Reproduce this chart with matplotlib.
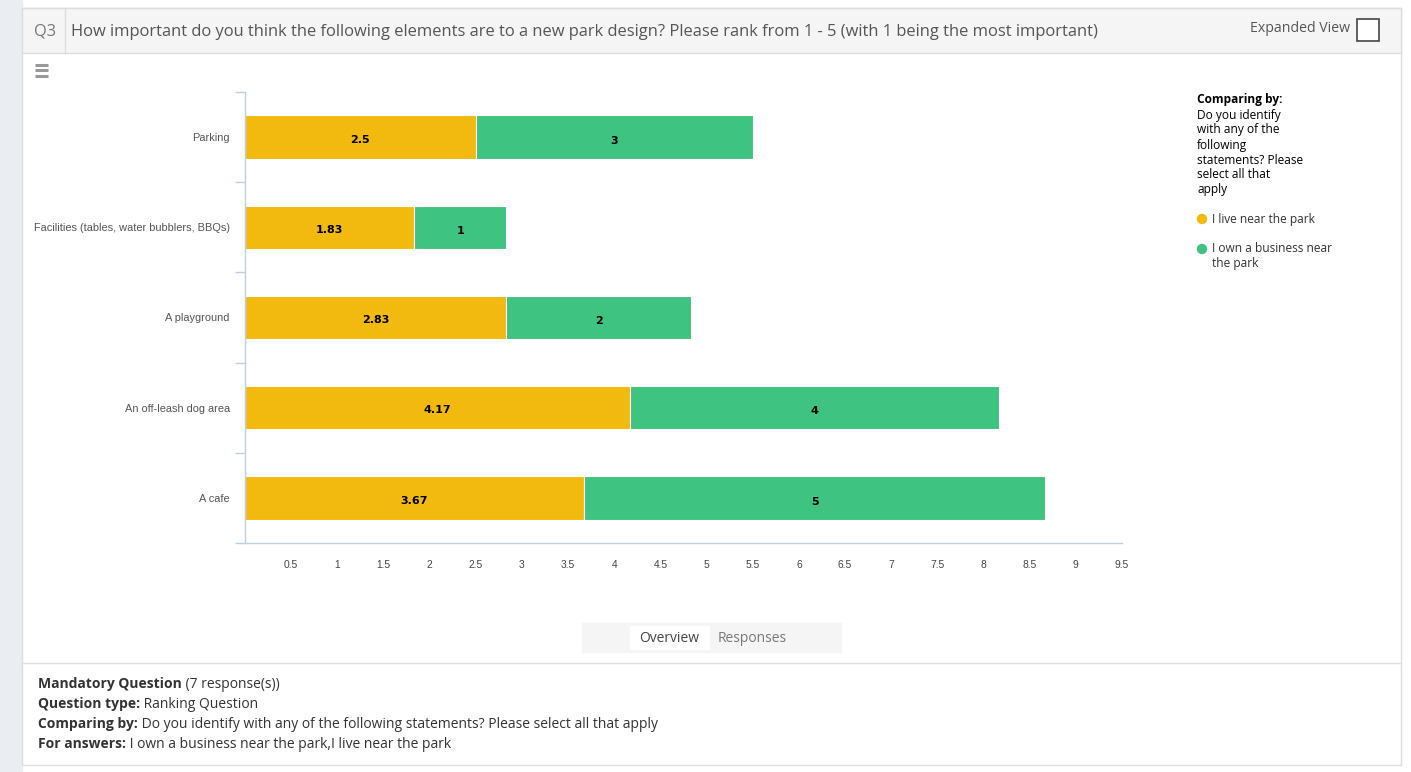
import numpy as np
import matplotlib.pyplot as plt
from matplotlib.patches import Rectangle, Circle

categories = ['Parking', 'Facilities (tables, water bubblers, BBQs)', 'A playground',
              'An off-leash dog area', 'A cafe']
live_near = [2.5, 1.83, 2.83, 4.17, 3.67]
own_business = [3, 1, 2, 4, 5]
series_names = ['I live near the park', 'I own a business near\nthe park']
xticks = [0.5, 1, 1.5, 2, 2.5, 3, 3.5, 4, 4.5, 5, 5.5, 6, 6.5, 7, 7.5, 8, 8.5, 9, 9.5]

yellow = '#f2b90f'
green = '#3fc380'
axis_col = '#bfd0e0'
ui = 'Open Sans'

W, H = 1411, 772
fig = plt.figure(figsize=(W / 100, H / 100), dpi=100)

# page / panel drawn in pixel coordinates
bg = fig.add_axes([0, 0, 1, 1])
bg.set_xlim(0, W)
bg.set_ylim(H, 0)
bg.axis('off')
bg.add_patch(Rectangle((0, 0), 22, H, color='#eaeef2', zorder=0))
bg.add_patch(Rectangle((22, 8), 1379, 757, facecolor='white', edgecolor='#dddddd', lw=1))
bg.add_patch(Rectangle((22, 8), 1379, 45, facecolor='#f5f5f5', edgecolor='#dddddd', lw=1))
bg.plot([65, 65], [8, 53], color='#dddddd', lw=1)
bg.text(34, 32, 'Q3', fontsize=11.8, family=ui, color='#777777', va='center')
bg.text(71, 32, 'How important do you think the following elements are to a new park design? '
        'Please rank from 1 - 5 (with 1 being the most important)',
        fontsize=11.9, family=ui, color='#555555', va='center')
bg.text(1350, 29, 'Expanded View', fontsize=10.2, family=ui, color='#555555', va='center', ha='right')
bg.add_patch(Rectangle((1357, 19), 22, 22, facecolor='white', edgecolor='#444444', lw=1.2))
for yy in [64.5, 70, 75.5]:
    bg.plot([35, 48], [yy, yy], color='#999999', lw=2.2, solid_capstyle='butt')

# legend panel
lfs = 8.6
bg.text(1197, 100, 'Comparing by:', fontsize=lfs, family=ui, weight='bold', color='black', va='center')
legend_lines = ['Do you identify', 'with any of the', 'following', 'statements? Please',
                'select all that', 'apply']
for i, s in enumerate(legend_lines):
    bg.text(1197, 115 + i * 15, s, fontsize=lfs, family=ui, color='black', va='center')
bg.add_patch(Circle((1202, 219), 4.5, color=yellow))
bg.text(1212, 219, series_names[0], fontsize=lfs, family=ui, color='#333333', va='center')
bg.add_patch(Circle((1202, 249), 4.5, color=green))
bg.text(1212, 249, series_names[1].split('\n')[0], fontsize=lfs, family=ui, color='#333333', va='center')
bg.text(1212, 264, series_names[1].split('\n')[1], fontsize=lfs, family=ui, color='#333333', va='center')

# overview / responses tab
bg.add_patch(Rectangle((582, 623), 259, 29, color='#f5f5f5'))
bg.add_patch(Rectangle((630, 626), 79, 23, color='white'))
bg.text(669.5, 638, 'Overview', fontsize=10, family=ui, color='#444444', ha='center', va='center')
bg.text(752, 638, 'Responses', fontsize=10, family=ui, color='#777777', ha='center', va='center')

bg.plot([22, 1401], [663, 663], color='#dddddd', lw=1)
footer = [('Mandatory Question', ' (7 response(s))'),
          ('Question type:', ' Ranking Question'),
          ('Comparing by:', ' Do you identify with any of the following statements? Please select all that apply'),
          ('For answers:', ' I own a business near the park,I live near the park')]
for i, (b, r) in enumerate(footer):
    y = 684 + i * 20
    t = bg.text(38, y, b, fontsize=10, family=ui, weight='bold', color='#333333', va='center')
    fig.canvas.draw()
    ext = t.get_window_extent()
    bg.text(38 + ext.width, y, r, fontsize=10, family=ui, color='#333333', va='center')

# chart
ax = fig.add_axes([245 / W, 1 - 543 / H, 877 / W, 451 / H])
y = np.arange(len(categories))
h = 0.48
ax.barh(y, live_near, height=h, color=yellow, edgecolor='white', linewidth=0.8)
ax.barh(y, own_business, left=live_near, height=h, color=green, edgecolor='white', linewidth=0.8)
for i in range(len(categories)):
    ax.text(live_near[i] / 2, y[i] + 0.03, f'{live_near[i]:g}', ha='center', va='center',
            fontsize=8, weight='bold', color='black')
    ax.text(live_near[i] + own_business[i] / 2, y[i] + 0.04, f'{own_business[i]:g}', ha='center',
            va='center', fontsize=8, weight='bold', color='black')

ax.set_xlim(0, 9.5)
ax.set_ylim(len(categories) - 0.5, -0.5)
ax.set_yticks(y)
ax.set_yticklabels(categories, fontsize=7.9, family='Liberation Sans', color='#555555')
ax.set_yticks(np.arange(len(categories) + 1) - 0.5, minor=True)
ax.tick_params(axis='y', which='major', length=0, pad=11)
ax.tick_params(axis='y', which='minor', length=7.5, color=axis_col, width=1)
ax.set_xticks(xticks)
ax.set_xticklabels([f'{v:g}' for v in xticks], fontsize=7.4, family='Liberation Sans', color='#444444')
ax.tick_params(axis='x', length=0, pad=12.5)
for s in ['top', 'right']:
    ax.spines[s].set_visible(False)
for s in ['left', 'bottom']:
    ax.spines[s].set_color(axis_col)
    ax.spines[s].set_linewidth(1)

fig.savefig('out.png', dpi=100)
